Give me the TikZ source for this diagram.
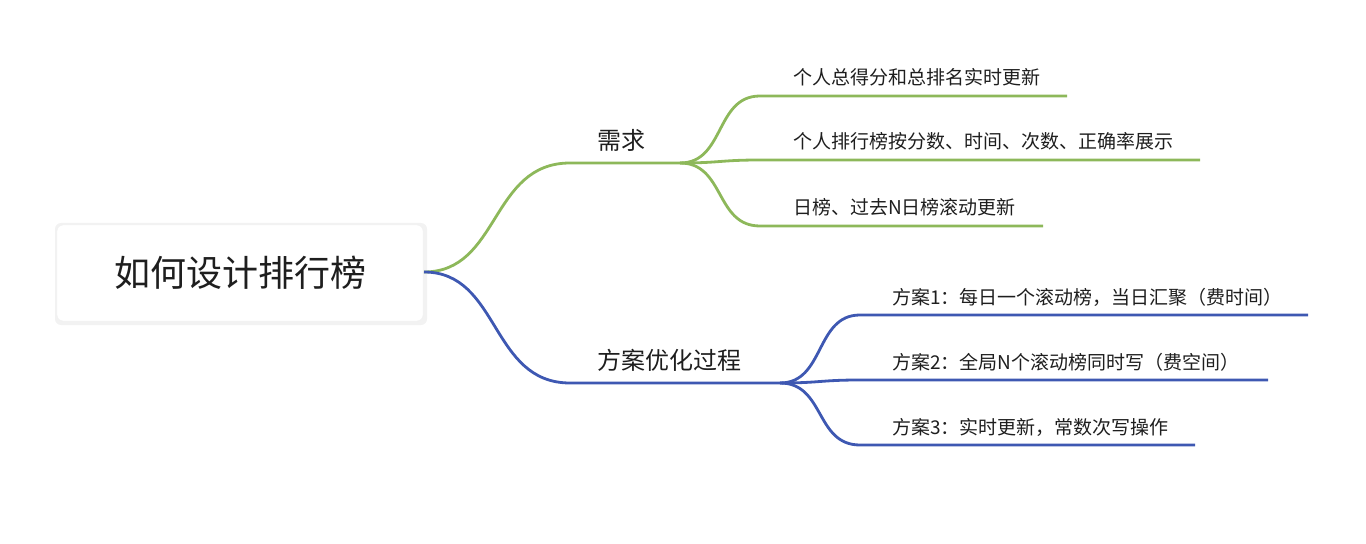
\documentclass[tikz,border=0pt]{standalone}
\usepackage{fontspec}
\setmainfont{Noto Sans CJK SC}
\begin{document}
\begin{tikzpicture}[x=1bp,y=-1bp,
  grn/.style={draw={rgb,255:red,141;green,184;blue,90},line width=2.8bp},
  blu/.style={draw={rgb,255:red,62;green,88;blue,178},line width=2.8bp},
  lbl/.style={anchor=base west,inner sep=0pt,font=\fontsize{19bp}{21bp}\selectfont,text={rgb,255:red,30;green,30;blue,30}},
  mid/.style={anchor=base west,inner sep=0pt,font=\fontsize{24bp}{26bp}\selectfont,text={rgb,255:red,30;green,30;blue,30}}]
\useasboundingbox (0,0) rectangle (1366,544);
\fill[black!5,rounded corners=6bp] (55,223) rectangle (427,325);
\node[draw=black!6,fill=white,rounded corners=6bp,minimum width=366bp,minimum height=96bp,font=\fontsize{36bp}{38bp}\selectfont,text={rgb,255:red,30;green,30;blue,30}] (root) at (240,273) {如何设计排行榜};
\coordinate (r) at (424,272);
% green
\coordinate (g0) at (570,163); \coordinate (g1) at (680,163);
\draw[grn] (r) .. controls (500,272) and (490,163) .. (g0) -- (g1);
\node[mid] (n1) at (597,150) {需求};
\coordinate (ga) at (760,96); \coordinate (gae) at (1067,96);
\coordinate (gb) at (760,160); \coordinate (gbe) at (1200,160);
\coordinate (gc) at (760,226); \coordinate (gce) at (1043,226);
\draw[grn] (g1) .. controls (725,163) and (715,96) .. (ga) -- (gae);
\draw[grn] (g1) .. controls (720,163) and (720,160) .. (gb) -- (gbe);
\draw[grn] (g1) .. controls (725,163) and (715,226) .. (gc) -- (gce);
\node[lbl] (a1) at (793,85) {个人总得分和总排名实时更新};
\node[lbl] (a2) at (793,149) {个人排行榜按分数、时间、次数、正确率展示};
\node[lbl] (a3) at (793,215) {日榜、过去N日榜滚动更新};
% blue
\coordinate (b0) at (570,383); \coordinate (b1) at (780,383);
\draw[blu] (r) .. controls (500,272) and (490,383) .. (b0) -- (b1);
\node[mid] (n2) at (597,369) {方案优化过程};
\coordinate (ba) at (860,315); \coordinate (bae) at (1308,315);
\coordinate (bb) at (860,380); \coordinate (bbe) at (1268,380);
\coordinate (bc) at (860,445); \coordinate (bce) at (1195,445);
\draw[blu] (b1) .. controls (825,383) and (815,315) .. (ba) -- (bae);
\draw[blu] (b1) .. controls (820,383) and (820,380) .. (bb) -- (bbe);
\draw[blu] (b1) .. controls (825,383) and (815,445) .. (bc) -- (bce);
\node[lbl] (c1) at (892,304) {方案1：每日一个滚动榜，当日汇聚（费时间）};
\node[lbl] (c2) at (892,369) {方案2：全局N个滚动榜同时写（费空间）};
\node[lbl] (c3) at (892,434) {方案3：实时更新，常数次写操作};
\end{tikzpicture}
\end{document}
